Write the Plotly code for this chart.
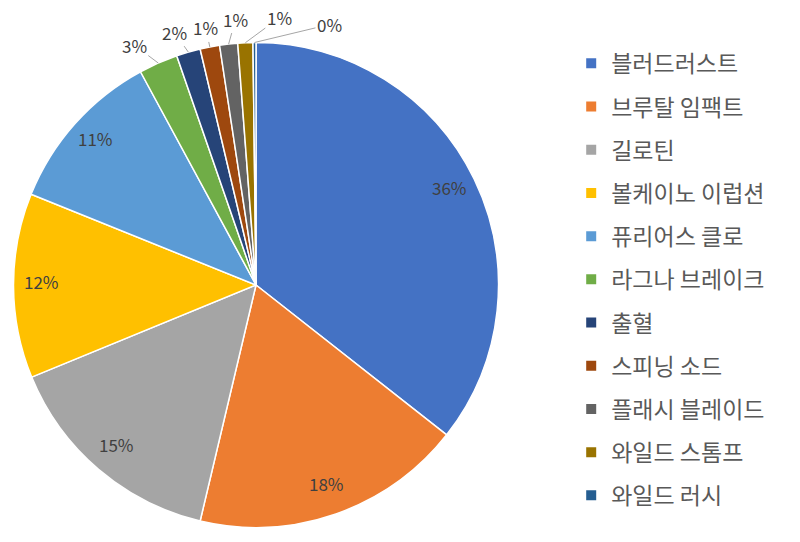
import math
import plotly.graph_objects as go

# 스킬별 비중 (%), 시계방향으로 12시부터
labels = ["블러드러스트", "브루탈 임팩트", "길로틴", "볼케이노 이럽션", "퓨리어스 클로",
          "라그나 브레이크", "출혈", "스피닝 소드", "플래시 블레이드", "와일드 스톰프", "와일드 러시"]
values = [35.6, 18.1, 15.1, 12.3, 11.0, 2.6, 1.6, 1.3, 1.2, 1.0, 0.2]
colors = ["#4472C4", "#ED7D31", "#A5A5A5", "#FFC000", "#5B9BD5", "#70AD47",
          "#264478", "#9E480E", "#636363", "#997300", "#255E91"]

FONT = "Noto Sans CJK KR"
W, H = 800, 542

# pie geometry in pixels (figure coords)
CX, CY, R = 248, 277, 242.5
dom_x = [(CX - R) / W, (CX + R) / W]
dom_y = [(H - CY - R) / H, (H - CY + R) / H]

# label placement: inside ones along the radius, small ones pulled out with a leader
n_inside = 5
outside_offsets = [(-24, -18), (-14, -20), (-4, -19), (7, -25), (34, -25), (75, -18)]

fig = go.Figure()

fig.add_trace(go.Pie(
    labels=labels,
    values=values,
    sort=False,
    direction="clockwise",
    rotation=0,
    marker=dict(colors=colors, line=dict(color="white", width=1.5)),
    textinfo="none",
    showlegend=False,
    automargin=False,
    hoverinfo="label+percent",
    domain=dict(x=dom_x, y=dom_y),
))

# percent labels
total = sum(values)
cum = 0
for i, v in enumerate(values):
    mid = (cum + v / 2) / total * 2 * math.pi
    cum += v
    txt = f"{round(v / total * 100)}%"
    if i < n_inside:
        k = 0.885
        fig.add_annotation(
            x=CX / W + R * k * math.sin(mid) / W,
            y=(H - CY + 4) / H + R * k * math.cos(mid) / H,  # nudge up a bit
            xref="paper", yref="paper", text=txt, showarrow=False,
            xanchor="center", yanchor="middle",
            font=dict(family=FONT, size=17, color="#404040"),
        )
    else:
        ax, ay = outside_offsets[i - n_inside]
        fig.add_annotation(
            x=CX / W + R * math.sin(mid) / W,
            y=(H - CY) / H + R * math.cos(mid) / H,
            xref="paper", yref="paper", text=txt,
            showarrow=True, arrowhead=0, arrowwidth=1, arrowcolor="#A6A6A6",
            ax=ax, ay=ay, standoff=0,
            font=dict(family=FONT, size=17, color="#404040"),
        )

# Legend entries (one group each so the spacing can be opened up)
for name, c in zip(labels, colors):
    fig.add_trace(go.Scatter(
        x=[None], y=[None], mode="markers", name=name,
        marker=dict(symbol="square", size=10, color=c),
        legendgroup=name, showlegend=True,
    ))

fig.update_xaxes(visible=False)
fig.update_yaxes(visible=False)
fig.update_layout(
    width=W, height=H,
    paper_bgcolor="white", plot_bgcolor="white",
    margin={"r": 0, "t": 0, "l": 0, "b": 0, "autoexpand": False},
    legend=dict(
        x=0.704, y=0.9375, xanchor="left", yanchor="top",
        font=dict(family=FONT, size=23, color="#595959"),
        tracegroupgap=10.3, itemwidth=30,
    ),
)

fig.write_html("out.html")
